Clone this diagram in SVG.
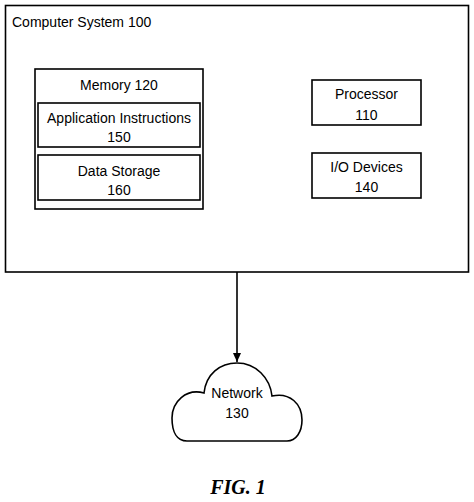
<svg xmlns="http://www.w3.org/2000/svg" width="474" height="502" viewBox="0 0 474 502">
<style>
.box{fill:none;stroke:#000;stroke-width:1.6}
.t{font-family:"Liberation Sans",Arial,sans-serif;font-size:14px;fill:#000}
.c{text-anchor:middle}
.fig{font-family:"Liberation Serif","Times New Roman",serif;font-size:20px;font-weight:bold;font-style:italic;text-anchor:middle}
</style>
<defs>
<marker id="ah" markerWidth="9" markerHeight="8" refX="9" refY="4" orient="auto" markerUnits="userSpaceOnUse">
<path d="M0,0 L9,4 L0,8 Z" fill="#000"/>
</marker>
</defs>
<rect width="474" height="502" fill="#fff"/>
<g id="computer-system">
<rect class="box" x="5.5" y="5.5" width="463" height="266.5"/>
<text class="t" x="12" y="27">Computer System 100</text>
</g>
<g id="memory">
<rect class="box" x="35" y="69" width="168" height="140"/>
<text class="t c" x="119" y="90">Memory 120</text>
</g>
<g id="app-instructions">
<rect class="box" x="38" y="103" width="162" height="44"/>
<text class="t c" x="119" y="123">Application Instructions</text>
<text class="t c" x="119" y="142">150</text>
</g>
<g id="data-storage">
<rect class="box" x="38" y="155" width="162" height="45"/>
<text class="t c" x="119" y="176">Data Storage</text>
<text class="t c" x="119" y="195">160</text>
</g>
<g id="processor">
<rect class="box" x="312" y="80" width="109" height="45"/>
<text class="t c" x="366.5" y="99">Processor</text>
<text class="t c" x="366.5" y="120">110</text>
</g>
<g id="io-devices">
<rect class="box" x="312" y="153" width="109" height="45"/>
<text class="t c" x="366.5" y="172">I/O Devices</text>
<text class="t c" x="366.5" y="192">140</text>
</g>
<g id="network">
<path class="box" d="M187 441 C177 441 172 432 172 418 C172 402 186 388 204 393 C206 374 220 363 237 363 C256 363 270 378 272 396 C290 392 302 404 302 420 C302 432 296 441 287 441 Z"/>
<text class="t c" x="237" y="398">Network</text>
<text class="t c" x="237" y="418">130</text>
</g>
<g id="connectors">
<line x1="237" y1="272" x2="237" y2="362" stroke="#000" stroke-width="1.6" marker-end="url(#ah)"/>
</g>
<text class="fig" x="238" y="494">FIG. 1</text>
</svg>
